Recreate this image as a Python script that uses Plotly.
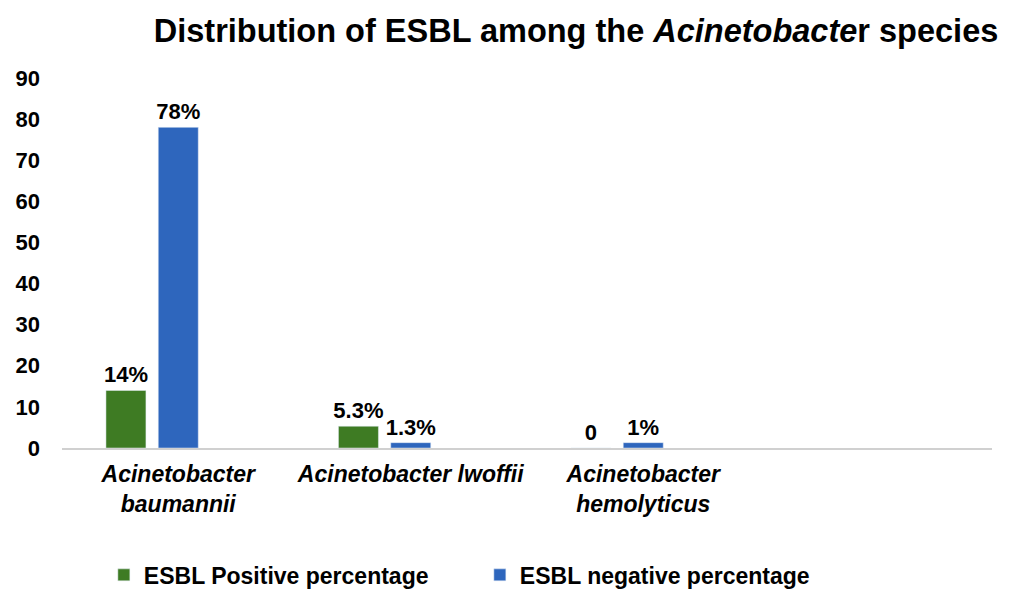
import plotly.graph_objects as go

species = ["Acinetobacter<br>baumannii", "Acinetobacter lwoffii", "Acinetobacter<br>hemolyticus"]
positive = [14, 5.3, 0]
negative = [78, 1.3, 1.3]
positive_labels = ["14%", "5.3%", "0"]
negative_labels = ["78%", "1.3%", "1%"]
y_ticks = [0, 10, 20, 30, 40, 50, 60, 70, 80, 90]

FONT = "Liberation Sans, Arial, sans-serif"
label_font = dict(family=FONT, size=22, color="black", weight="bold")

fig = go.Figure()
fig.add_trace(go.Bar(x=species, y=positive, name="ESBL Positive percentage",
                     marker_color="#3e7b23", width=0.172, offset=-0.311,
                     text=positive_labels, textposition="outside", constraintext="none",
                     textfont=label_font, cliponaxis=False))
fig.add_trace(go.Bar(x=species, y=negative, name="ESBL negative percentage",
                     marker_color="#2e66bd", width=0.172, offset=-0.086,
                     text=negative_labels, textposition="outside", constraintext="none",
                     textfont=label_font, cliponaxis=False))

fig.update_layout(
    width=1024, height=598,
    barmode="overlay",
    plot_bgcolor="white", paper_bgcolor="white",
    margin=dict(l=54, r=40, t=70, b=158, autoexpand=False),
    title=dict(text="<b>Distribution of ESBL among the <i>Acinetobacte</i>r species</b>",
               x=0.5547, xanchor="center", y=0.963, yanchor="middle",
               font=dict(family=FONT, size=32.5, color="black")),
    legend=dict(orientation="h", x=0.045, xanchor="left", y=-0.343, yanchor="middle",
                font=dict(family=FONT, size=23, color="black", weight="bold"),
                entrywidth=331, itemwidth=30),
    showlegend=True,
)
fig.update_xaxes(type="category", categoryorder="array", categoryarray=species,
                 range=[-0.5, 3.5], showline=True, linecolor="#d0d0d0", linewidth=1.5,
                 showgrid=False, ticks="", ticklabelstandoff=5,
                 tickfont=dict(family=FONT, size=23, color="black", weight="bold", style="italic"))
fig.update_yaxes(range=[0, 90], tickvals=y_ticks, showgrid=False, zeroline=False,
                 showline=False, ticks="", ticklabelstandoff=21,
                 tickfont=dict(family=FONT, size=22, color="black", weight="bold"))

fig.write_html("out.html")
